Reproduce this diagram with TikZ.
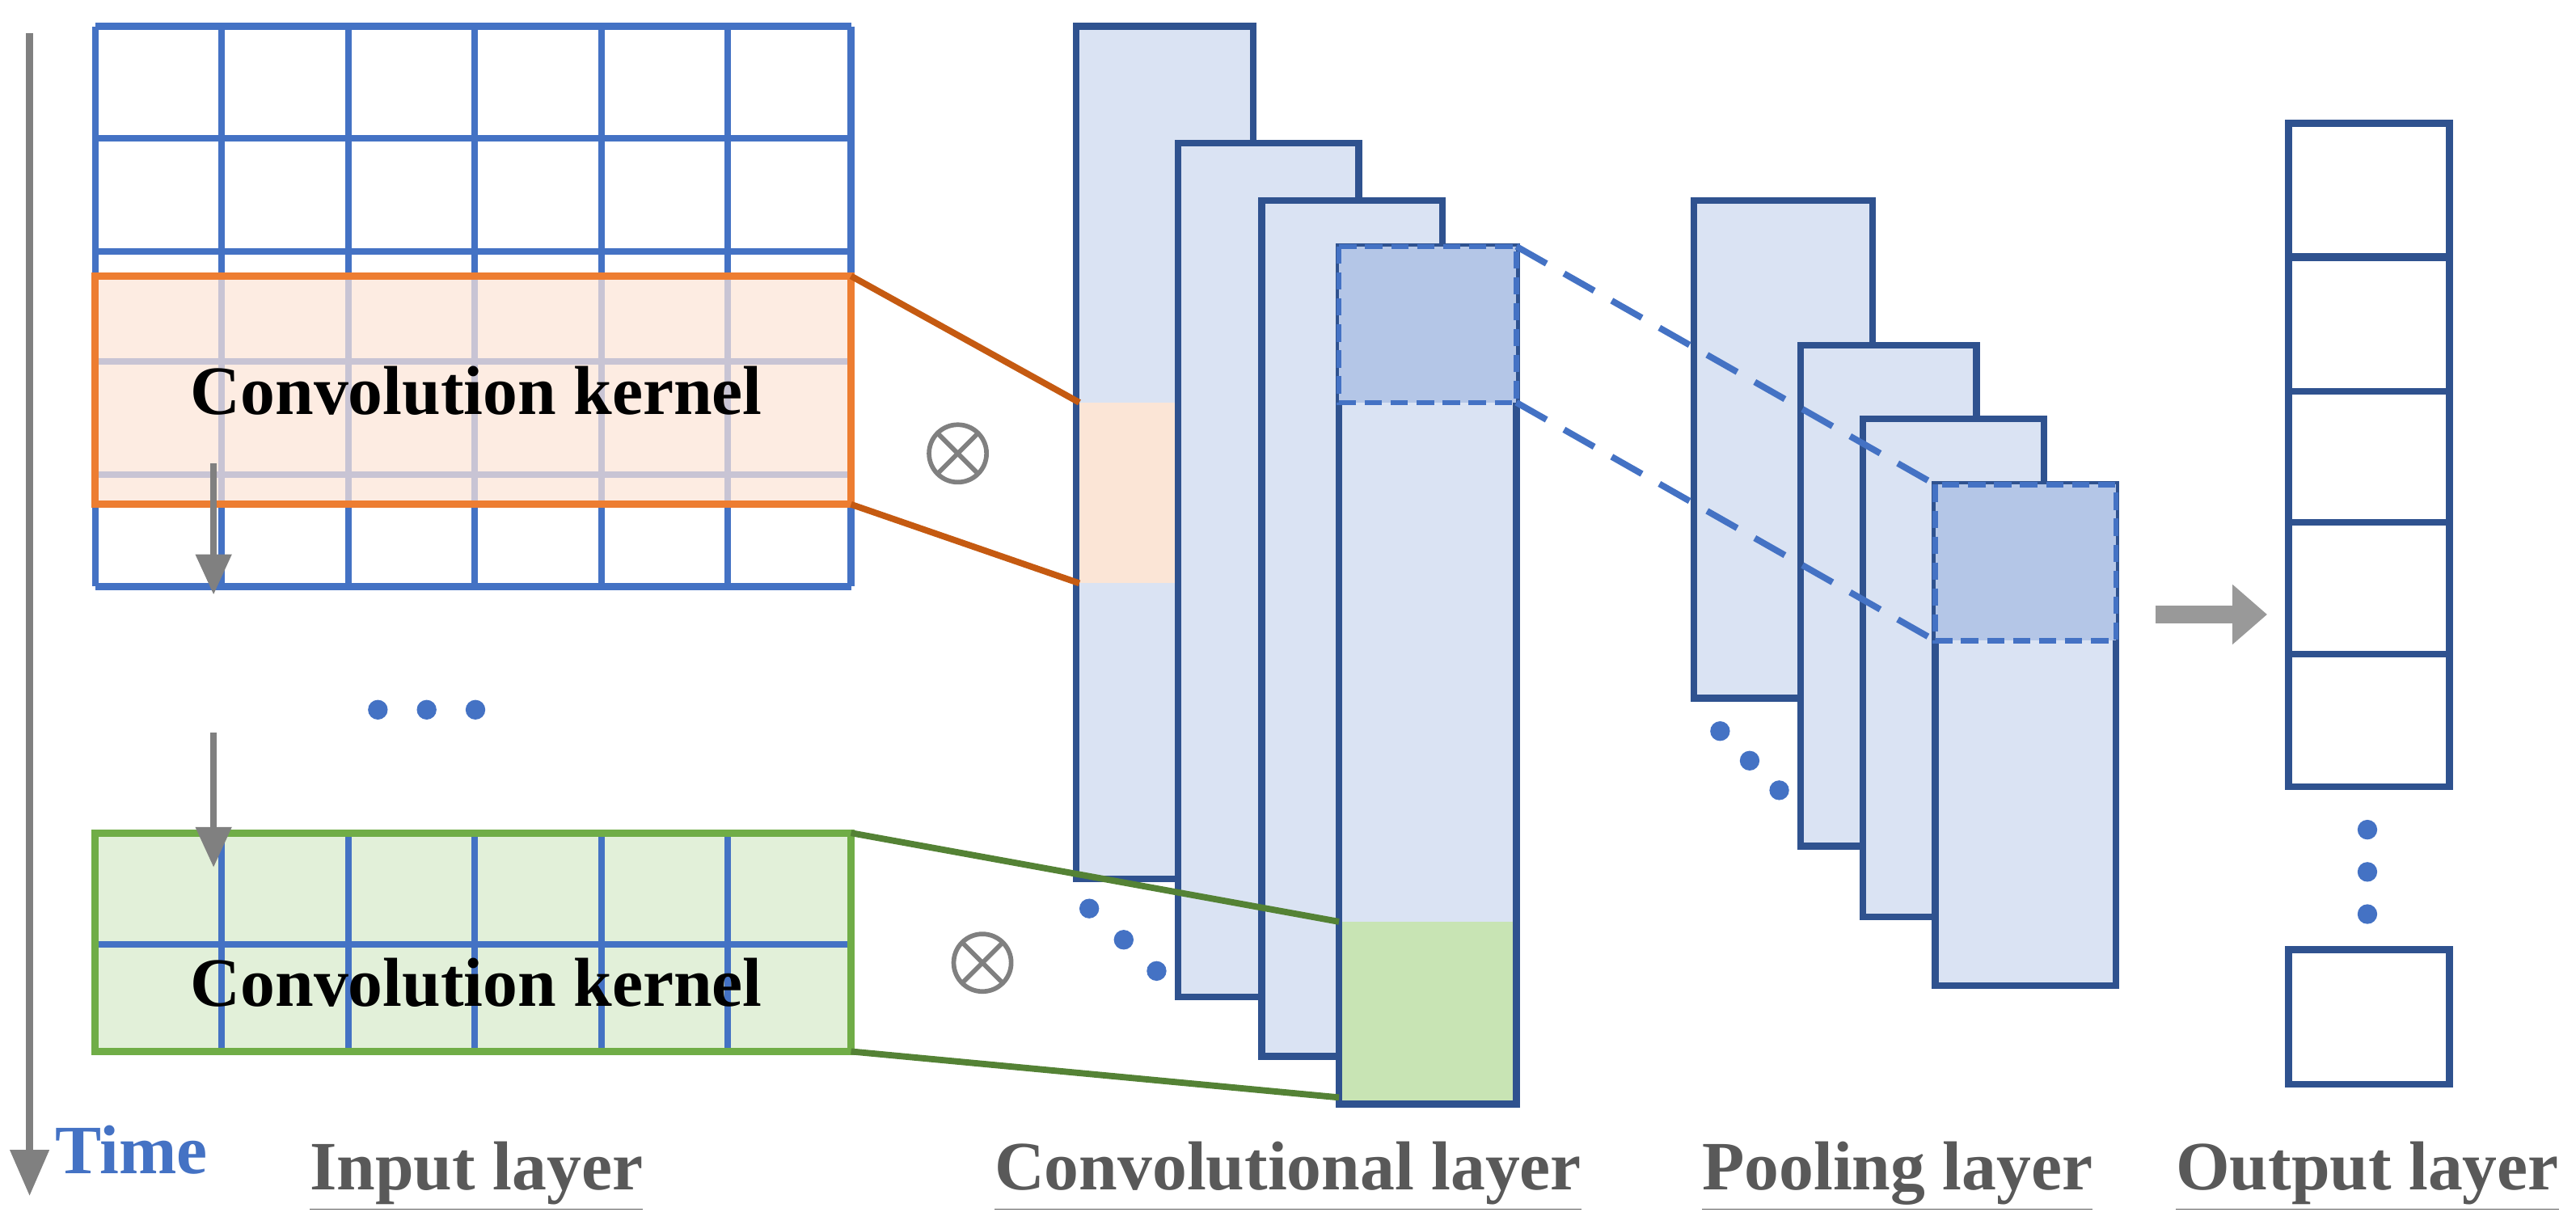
\documentclass[tikz,border=0pt]{standalone}
\usepackage{fontspec}
\setmainfont{Liberation Serif}
\usetikzlibrary{arrows.meta, positioning, calc}
\definecolor{gridblue}{RGB}{68,114,196}
\definecolor{mapborder}{RGB}{47,82,143}
\definecolor{mapfill}{RGB}{218,227,243}
\definecolor{poolfill}{RGB}{180,198,231}
\definecolor{kernorange}{RGB}{237,125,49}
\definecolor{kernfill}{RGB}{253,236,226}
\definecolor{peach}{RGB}{251,229,214}
\definecolor{linkorange}{RGB}{197,90,17}
\definecolor{kerngreen}{RGB}{112,173,71}
\definecolor{greenfill}{RGB}{226,240,217}
\definecolor{greenpatch}{RGB}{200,228,180}
\definecolor{linkgreen}{RGB}{84,130,53}
\definecolor{paleline}{RGB}{200,196,212}
\definecolor{arrowgray}{RGB}{128,128,128}
\definecolor{labelgray}{RGB}{89,89,89}
\tikzset{
    gridline/.style={line width=2.3pt, draw=gridblue},
    featmap/.style={line width=2.3pt, draw=mapborder, fill=mapfill},
    window/.style={line width=1.8pt, draw=gridblue, fill=poolfill, dash pattern=on 6pt off 3pt},
    link/.style={line width=2.2pt},
    slide/.style={line width=2.4pt, draw=arrowgray, -{Triangle[length=14pt, width=12pt]}},
    dot/.style={circle, fill=gridblue, inner sep=0pt, minimum size=0.24cm},
    kerneltext/.style={font=\fontsize{24}{28}\selectfont\bfseries},
    layerlabel/.style={font=\fontsize{24}{28}\selectfont\bfseries, text=labelgray},
    times/.style={circle, draw=arrowgray, line width=1.6pt, minimum size=0.7cm, inner sep=0pt,
        path picture={\draw [arrowgray, line width=1.6pt]
            (path picture bounding box.north west) -- (path picture bounding box.south east)
            (path picture bounding box.north east) -- (path picture bounding box.south west);}}
}
\begin{document}
\begin{tikzpicture}[x=0.02cm, y=-0.02cm]
    \useasboundingbox (0,0) rectangle (1568,748);

    % Time axis
    \coordinate (ttop) at (18,20);
    \coordinate (tbot) at (18,728);
    \draw [line width=2.6pt, draw=arrowgray, -{Triangle[length=16pt, width=13pt]}] (ttop) -- (tbot);
    \node (time) at (80,700) [font=\fontsize{24}{28}\selectfont\bfseries, text=gridblue] {Time};

    % Input grid
    \foreach \x in {58,135,212,289,366,443,518} \draw [gridline] (\x,16) -- (\x,357);
    \foreach \y in {16,84,153,357} \draw [gridline] (58,\y) -- (518,\y);
    \fill [kernfill] (58,168) rectangle (518,307);
    \foreach \x in {135,212,289,366,443} \draw [line width=2.3pt, paleline] (\x,168) -- (\x,307);
    \foreach \y in {220,289} \draw [line width=2.3pt, paleline] (58,\y) -- (518,\y);
    \draw [line width=2.6pt, kernorange] (58,168) rectangle (518,307);
    \node (kern1) at (290,238) [kerneltext] {Convolution kernel};
    \coordinate (k1tr) at (518,168);
    \coordinate (k1br) at (518,307);

    % Last kernel
    \fill [greenfill] (58,507) rectangle (518,640);
    \foreach \x in {135,212,289,366,443} \draw [gridline] (\x,507) -- (\x,640);
    \draw [gridline] (58,575) -- (518,575);
    \draw [line width=2.6pt, kerngreen] (58,507) rectangle (518,640);
    \node (kern2) at (290,598) [kerneltext] {Convolution kernel};
    \coordinate (k2tr) at (518,507);
    \coordinate (k2br) at (518,640);

    % Sliding steps
    \coordinate (s1a) at (130,282);
    \coordinate (s1b) at (130,362);
    \draw [slide] (s1a) -- (s1b);
    \node (d1) at (230,432) [dot] {};
    \node (d2) [dot, right=0.34cm of d1] {};
    \node (d3) [dot, right=0.34cm of d2] {};
    \coordinate (s2a) at (130,446);
    \coordinate (s2b) at (130,528);
    \draw [slide] (s2a) -- (s2b);

    % Convolution symbols
    \node (op1) at (583,276) [times] {};
    \node (op2) at (598,586) [times] {};

    % Convolutional layer
    \draw [featmap] (655,16) rectangle (763,535);
    \fill [peach] (657,245) rectangle (717,355);
    \draw [featmap] (717,87) rectangle (827,607);
    \draw [featmap] (768,122) rectangle (878,643);
    \draw [featmap] (815,150) rectangle (923,672);
    \fill [greenpatch] (816,561) rectangle (922,671);
    \draw [line width=2.3pt, mapborder] (815,150) rectangle (923,672);
    \draw [window] (815,150) rectangle (923,245);
    \coordinate (patchtop) at (657,245);
    \coordinate (patchbot) at (657,355);
    \coordinate (greentop) at (815,561);
    \coordinate (greenbot) at (815,668);
    \coordinate (wtop) at (923,150);
    \coordinate (wbot) at (923,245);
    \node (c1) at (663,553) [dot] {};
    \node (c2) at (684,572) [dot] {};
    \node (c3) at (704,591) [dot] {};

    % Kernel links
    \draw [link, linkorange] (k1tr) -- (patchtop);
    \draw [link, linkorange] (k1br) -- (patchbot);
    \draw [link, linkgreen] (k2tr) -- (greentop);
    \draw [link, linkgreen] (k2br) -- (greenbot);

    % Pooling layer
    \draw [featmap] (1031,122) rectangle (1140,425);
    \draw [featmap] (1096,210) rectangle (1203,515);
    \draw [featmap] (1134,255) rectangle (1244,558);
    \draw [featmap] (1178,295) rectangle (1288,600);
    \draw [window] (1178,295) rectangle (1288,390);
    \coordinate (ptop) at (1178,295);
    \coordinate (pbot) at (1178,390);
    \draw [link, gridblue, dash pattern=on 12pt off 7pt] (wtop) -- (ptop);
    \draw [link, gridblue, dash pattern=on 12pt off 7pt] (wbot) -- (pbot);
    \node (p1) at (1047,445) [dot] {};
    \node (p2) at (1065,463) [dot] {};
    \node (p3) at (1083,481) [dot] {};

    % To output
    \coordinate (fa) at (1312,374);
    \coordinate (fb) at (1380,374);
    \draw [line width=6pt, draw=arrowgray!80, -{Triangle[length=12pt, width=20pt]}] (fa) -- (fb);

    % Output layer
    \foreach \y in {75,157,238,318,398} \draw [featmap, fill=white] (1393,\y) rectangle (1491,\y+81);
    \node (o1) at (1441,505) [dot] {};
    \node (o2) [dot, below=0.26cm of o1] {};
    \node (o3) [dot, below=0.26cm of o2] {};
    \draw [featmap, fill=white] (1393,578) rectangle (1491,660);

    % Labels
    \node (lin) at (290,716) [layerlabel] {\underline{Input layer}};
    \node (lconv) at (784,716) [layerlabel] {\underline{Convolutional layer}};
    \node (lpool) at (1155,716) [layerlabel] {\underline{Pooling layer}};
    \node (lout) at (1441,716) [layerlabel] {\underline{Output layer}};
\end{tikzpicture}
\end{document}
